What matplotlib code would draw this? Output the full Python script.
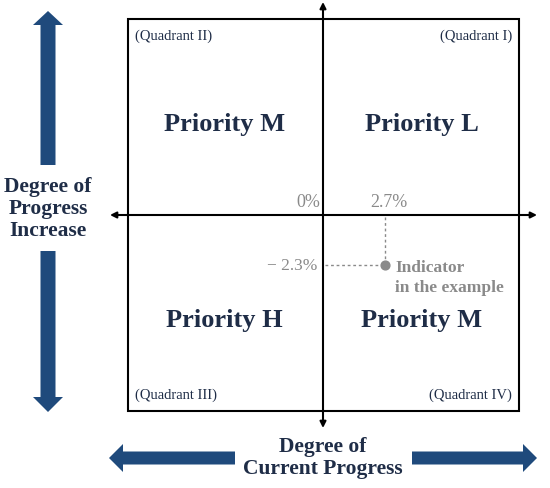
import matplotlib
matplotlib.use("Agg")
from matplotlib import pyplot as plt
from matplotlib.patches import Polygon, Rectangle
import numpy as np

plt.rcParams['font.family'] = ['Liberation Serif', 'DejaVu Serif']

# indicator in the example (percent)
point_x = [2.7]
point_y = [-2.3]
point_label = ["Indicator\nin the example"]

quadrant_names = ["(Quadrant I)", "(Quadrant II)", "(Quadrant III)", "(Quadrant IV)"]
priority_names = ["Priority L", "Priority M", "Priority H", "Priority M"]

navy = "#1f2d47"
blue = "#1f4a7c"
grey = "#8a8a8a"

W, H = 550, 489
fig = plt.figure(figsize=(W / 100, H / 100), dpi=100)

# pixel layer for the decoration
deco = fig.add_axes([0, 0, 1, 1])
deco.set_xlim(0, W)
deco.set_ylim(H, 0)
deco.axis("off")

# data layer, origin in the middle of the box, units in %
ax = fig.add_axes([0, 0, 1, 1])
ox, oy = 323, 216
sx, sy = 22.96, 21.7
ax.set_xlim(-ox / sx, (W - ox) / sx)
ax.set_ylim(-(H - oy) / sy, oy / sy)
ax.axis("off")
ax.patch.set_alpha(0)

# box
bx0, bx1 = (128 - ox) / sx, (519 - ox) / sx
by0, by1 = -(412 - oy) / sy, (oy - 20) / sy
ax.add_patch(Rectangle((bx0, by0), bx1 - bx0, by1 - by0, fill=False,
                       lw=1.5, ec="black", zorder=2))

# axes with arrows
ax.annotate("", xy=((537 - ox) / sx, 0), xytext=((110 - ox) / sx, 0),
            arrowprops=dict(arrowstyle="<|-|>", lw=1.5, color="black",
                            mutation_scale=9, shrinkA=0, shrinkB=0))
ax.annotate("", xy=(0, (oy - 3) / sy), xytext=(0, -(429 - oy) / sy),
            arrowprops=dict(arrowstyle="<|-|>", lw=1.5, color="black",
                            mutation_scale=9, shrinkA=0, shrinkB=0))


# big blue arrows (pixel coordinates)
def vert_arrow(xc, y_tail, y_base, y_tip):
    pts = [(xc - 7.5, y_tail), (xc + 7.5, y_tail), (xc + 7.5, y_base),
           (xc + 15, y_base), (xc, y_tip), (xc - 15, y_base), (xc - 7.5, y_base)]
    deco.add_patch(Polygon(pts, closed=True, fc=blue, ec="none"))


def horiz_arrow(yc, x_tail, x_base, x_tip):
    pts = [(x_tail, yc - 6.5), (x_tail, yc + 6.5), (x_base, yc + 6.5),
           (x_base, yc + 14), (x_tip, yc), (x_base, yc - 14), (x_base, yc - 6.5)]
    deco.add_patch(Polygon(pts, closed=True, fc=blue, ec="none"))


vert_arrow(48, 166, 26, 12)
vert_arrow(48, 252, 398, 413)
horiz_arrow(459, 235, 123, 109)
horiz_arrow(459, 412, 523, 537)

deco.text(48, 209, "Degree of\nProgress\nIncrease", ha="center", va="center",
          fontsize=15.5, fontweight="bold", color=navy, linespacing=1.12)
deco.text(323, 458, "Degree of\nCurrent Progress", ha="center", va="center",
          fontsize=15.5, fontweight="bold", color=navy, linespacing=1.12)

# quadrant labels
pad_x, pad_y = 0.3, 0.75
qfs = 10.5
ax.text(bx1 - pad_x, by1 - pad_y, quadrant_names[0], ha="right", va="center",
        fontsize=qfs, color=navy)
ax.text(bx0 + pad_x, by1 - pad_y, quadrant_names[1], ha="left", va="center",
        fontsize=qfs, color=navy)
ax.text(bx0 + pad_x, by0 + pad_y, quadrant_names[2], ha="left", va="center",
        fontsize=qfs, color=navy)
ax.text(bx1 - pad_x, by0 + pad_y, quadrant_names[3], ha="right", va="center",
        fontsize=qfs, color=navy)

# priorities
qx, qy_top, qy_bot = 4.3, 4.2, -4.8
ax.text(qx, qy_top, priority_names[0], ha="center", va="center",
        fontsize=19, fontweight="bold", color=navy)
ax.text(-qx, qy_top, priority_names[1], ha="center", va="center",
        fontsize=19, fontweight="bold", color=navy)
ax.text(-qx, qy_bot, priority_names[2], ha="center", va="center",
        fontsize=19, fontweight="bold", color=navy)
ax.text(qx, qy_bot, priority_names[3], ha="center", va="center",
        fontsize=19, fontweight="bold", color=navy)

# indicator point and guides
px, py = point_x[0], point_y[0]
ax.plot([px, px], [-0.1, py], ls=(0, (2, 2)), lw=1, color=grey, zorder=1)
ax.plot([0.1, px], [py, py], ls=(0, (2, 2)), lw=1, color=grey, zorder=1)
ax.scatter(point_x, point_y, s=40, color=grey, zorder=3)
ax.text(px + 0.45, py - 0.55, point_label[0], ha="left", va="center",
        fontsize=12.5, fontweight="bold", color=grey, linespacing=1.38)

ax.text(-0.1, 0.6, "0%", ha="right", va="center", fontsize=13, color=grey)
ax.text(px + 0.15, 0.6, f"{px:.1f}%", ha="center", va="center", fontsize=13, color=grey)
ax.text(-0.25, py, f"\u2212 {abs(py):.1f}%", ha="right", va="center",
        fontsize=12.5, color=grey)

fig.savefig("out.png", dpi=100)
